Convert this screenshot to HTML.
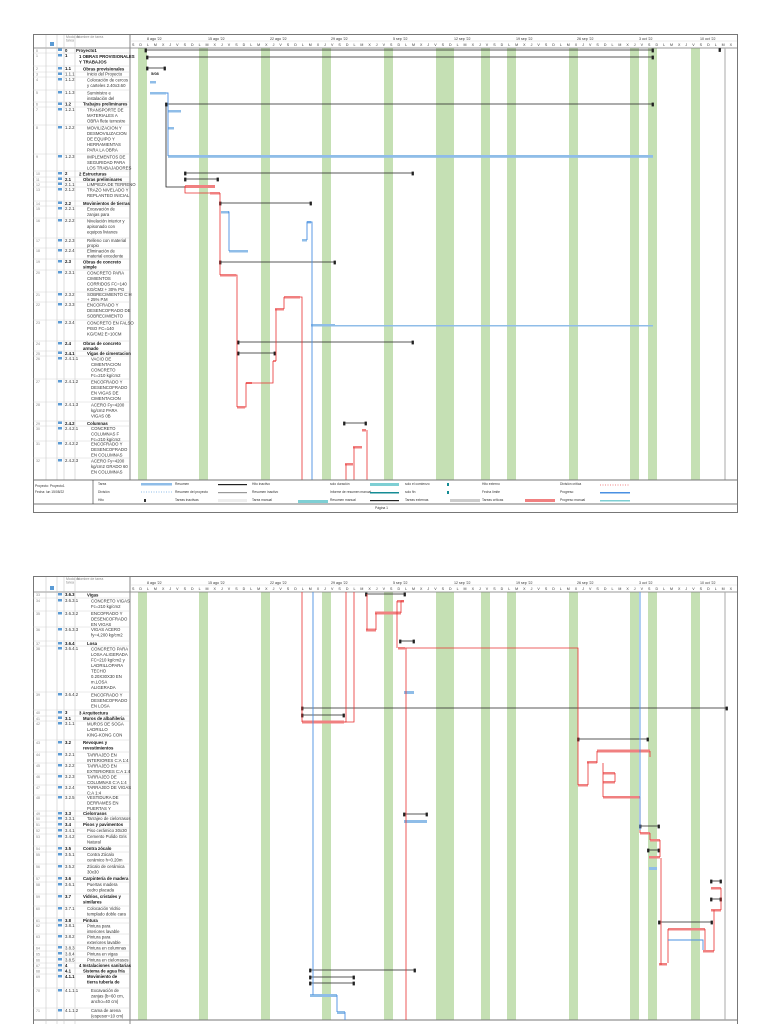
<!DOCTYPE html>
<html><head><meta charset="utf-8"><style>
html,body{margin:0;padding:0;background:#fff}
svg{display:block}
text{font-family:"Liberation Sans",sans-serif;fill:#333}
.n{font-size:4.3px}
.b{font-weight:bold;fill:#111}
.r{font-size:3.5px;fill:#888}
.h{font-size:3.6px;fill:#555}
</style></head><body>
<svg width="768" height="1024" viewBox="0 0 768 1024" xmlns="http://www.w3.org/2000/svg">
<defs>
<g id="stripes1">
<rect x="138" y="48" width="9" height="432" fill="#c5e0b4"/>
<rect x="199" y="48" width="9" height="432" fill="#c5e0b4"/>
<rect x="261" y="48" width="9" height="432" fill="#c5e0b4"/>
<rect x="322" y="48" width="9" height="432" fill="#c5e0b4"/>
<rect x="384" y="48" width="9" height="432" fill="#c5e0b4"/>
<rect x="436" y="48" width="18" height="432" fill="#c5e0b4"/>
<rect x="481" y="48" width="9" height="432" fill="#c5e0b4"/>
<rect x="507" y="48" width="9" height="432" fill="#c5e0b4"/>
<rect x="569" y="48" width="9" height="432" fill="#c5e0b4"/>
<rect x="630" y="48" width="9" height="432" fill="#c5e0b4"/>
<rect x="648" y="48" width="9" height="432" fill="#c5e0b4"/>
<rect x="691" y="48" width="9" height="432" fill="#c5e0b4"/>
</g>
</defs>

<!-- ================= PAGE 1 ================= -->
<rect x="33.5" y="34.5" width="704" height="478" fill="none" stroke="#777" stroke-width="1"/>
<use href="#stripes1"/>
<line x1="33" y1="48" x2="737" y2="48" stroke="#777" stroke-width="0.8"/>
<line x1="130" y1="35" x2="130" y2="480" stroke="#888" stroke-width="1"/>
<line x1="46" y1="35" x2="46" y2="480" stroke="#bbb" stroke-width="0.5"/>
<line x1="57" y1="35" x2="57" y2="480" stroke="#bbb" stroke-width="0.5"/>
<line x1="64" y1="35" x2="64" y2="480" stroke="#bbb" stroke-width="0.5"/>
<line x1="75" y1="35" x2="75" y2="480" stroke="#bbb" stroke-width="0.5"/>
<line x1="725" y1="48" x2="725" y2="480" stroke="#aaa" stroke-width="1"/>
<rect x="50" y="42" width="4" height="4" fill="#5b9bd5"/>
<text x="66" y="38" class="r">Modo de</text><text x="66" y="41.5" class="r">tarea</text>
<text x="77" y="38" class="r">Nombre de tarea</text>
<line x1="130" y1="41" x2="737" y2="41" stroke="#ccc" stroke-width="0.4"/>
<g class="h">
<text x="147" y="40">8 ago '22</text><text x="208" y="40">15 ago '22</text><text x="270" y="40">22 ago '22</text><text x="331" y="40">29 ago '22</text><text x="393" y="40">5 sep '22</text><text x="454" y="40">12 sep '22</text><text x="516" y="40">19 sep '22</text><text x="577" y="40">26 sep '22</text><text x="639" y="40">3 oct '22</text><text x="700" y="40">10 oct '22</text>
<text x="132" y="46" textLength="600" lengthAdjust="spacing">S D L M X J V S D L M X J V S D L M X J V S D L M X J V S D L M X J V S D L M X J V S D L M X J V S D L M X J V S D L M X J V S D L M X J V S D L M X J V S D L M X</text>
</g>

<g stroke="#ccc" stroke-width="0.4">
<line x1="33" y1="53" x2="130" y2="53"/><line x1="33" y1="66" x2="130" y2="66"/><line x1="33" y1="72" x2="130" y2="72"/><line x1="33" y1="77" x2="130" y2="77"/><line x1="33" y1="90" x2="130" y2="90"/><line x1="33" y1="102" x2="130" y2="102"/><line x1="33" y1="107" x2="130" y2="107"/><line x1="33" y1="125" x2="130" y2="125"/><line x1="33" y1="154" x2="130" y2="154"/><line x1="33" y1="171" x2="130" y2="171"/><line x1="33" y1="177" x2="130" y2="177"/><line x1="33" y1="182" x2="130" y2="182"/><line x1="33" y1="187" x2="130" y2="187"/><line x1="33" y1="201" x2="130" y2="201"/><line x1="33" y1="206" x2="130" y2="206"/><line x1="33" y1="218" x2="130" y2="218"/><line x1="33" y1="238" x2="130" y2="238"/><line x1="33" y1="248" x2="130" y2="248"/><line x1="33" y1="259" x2="130" y2="259"/><line x1="33" y1="270" x2="130" y2="270"/><line x1="33" y1="292" x2="130" y2="292"/><line x1="33" y1="302" x2="130" y2="302"/><line x1="33" y1="320" x2="130" y2="320"/><line x1="33" y1="341" x2="130" y2="341"/><line x1="33" y1="351" x2="130" y2="351"/><line x1="33" y1="356" x2="130" y2="356"/><line x1="33" y1="379" x2="130" y2="379"/><line x1="33" y1="402" x2="130" y2="402"/><line x1="33" y1="421" x2="130" y2="421"/><line x1="33" y1="426" x2="130" y2="426"/><line x1="33" y1="441" x2="130" y2="441"/><line x1="33" y1="458" x2="130" y2="458"/>
</g>
<g fill="#5b9bd5">
<rect x="58" y="48.5" width="4" height="2.5"/><rect x="58" y="54" width="4" height="2.5"/><rect x="58" y="67" width="4" height="2.5"/><rect x="58" y="72.5" width="4" height="2.5"/><rect x="58" y="78" width="4" height="2.5"/><rect x="58" y="91" width="4" height="2.5"/><rect x="58" y="102.5" width="4" height="2.5"/><rect x="58" y="108" width="4" height="2.5"/><rect x="58" y="126" width="4" height="2.5"/><rect x="58" y="155" width="4" height="2.5"/><rect x="58" y="172" width="4" height="2.5"/><rect x="58" y="177.5" width="4" height="2.5"/><rect x="58" y="182.5" width="4" height="2.5"/><rect x="58" y="188" width="4" height="2.5"/><rect x="58" y="201.5" width="4" height="2.5"/><rect x="58" y="207" width="4" height="2.5"/><rect x="58" y="219" width="4" height="2.5"/><rect x="58" y="239" width="4" height="2.5"/><rect x="58" y="249" width="4" height="2.5"/><rect x="58" y="260" width="4" height="2.5"/><rect x="58" y="271" width="4" height="2.5"/><rect x="58" y="293" width="4" height="2.5"/><rect x="58" y="303" width="4" height="2.5"/><rect x="58" y="321" width="4" height="2.5"/><rect x="58" y="342" width="4" height="2.5"/><rect x="58" y="351.5" width="4" height="2.5"/><rect x="58" y="357" width="4" height="2.5"/><rect x="58" y="380" width="4" height="2.5"/><rect x="58" y="403" width="4" height="2.5"/><rect x="58" y="421.5" width="4" height="2.5"/><rect x="58" y="427" width="4" height="2.5"/><rect x="58" y="442" width="4" height="2.5"/><rect x="58" y="459" width="4" height="2.5"/>
</g>
<g class="n">
<text x="36" y="52" class="r">0</text><text x="65" y="52" class="b">0</text><text x="76" y="52" class="b">Proyecto1</text>
<text x="36" y="57" class="r">1</text><text x="65" y="57" class="b">1</text><text x="79" y="58" class="b">1 OBRAS PROVISIONALES</text><text x="79" y="63.5" class="b">Y TRABAJOS</text>
<text x="36" y="70" class="r">2</text><text x="65" y="70" class="b">1.1</text><text x="83" y="70.5" class="b">Obras provisionales</text>
<text x="36" y="75.5" class="r">3</text><text x="65" y="75.5">1.1.1</text><text x="87" y="75.5">Inicio del Proyecto</text>
<text x="36" y="81" class="r">4</text><text x="65" y="81">1.1.2</text><text x="87" y="81.5">Colocación de cercos</text><text x="87" y="87">y carteles 2.40x3.60</text>
<text x="36" y="94" class="r">5</text><text x="65" y="94">1.1.3</text><text x="87" y="94.5">Suministro e</text><text x="87" y="100">instalación del</text>
<text x="36" y="105.5" class="r">6</text><text x="65" y="105.5" class="b">1.2</text><text x="83" y="105.5" class="b">Trabajos preliminares</text>
<text x="36" y="111" class="r">7</text><text x="65" y="111">1.2.1</text><text x="87" y="111.5">TRANSPORTE DE</text><text x="87" y="117">MATERIALES A</text><text x="87" y="122.5">OBRA flete terrestre</text>
<text x="36" y="129" class="r">8</text><text x="65" y="129">1.2.2</text><text x="87" y="129.5">MOVILIZACION Y</text><text x="87" y="135">DESMOVILIZACION</text><text x="87" y="140.5">DE EQUIPO Y</text><text x="87" y="146">HERRAMIENTAS</text><text x="87" y="151.5">PARA LA OBRA</text>
<text x="36" y="158" class="r">9</text><text x="65" y="158">1.2.3</text><text x="87" y="158.5">IMPLEMENTOS DE</text><text x="87" y="164">SEGURIDAD PARA</text><text x="87" y="169.5">LOS TRABAJADORES</text>
<text x="36" y="175" class="r">10</text><text x="65" y="175" class="b">2</text><text x="79" y="175.5" class="b">2 Estructuras</text>
<text x="36" y="181" class="r">11</text><text x="65" y="181" class="b">2.1</text><text x="83" y="181" class="b">Obras preliminares</text>
<text x="36" y="186" class="r">12</text><text x="65" y="186">2.1.1</text><text x="87" y="186">LIMPIEZA DE TERRENO</text>
<text x="36" y="191" class="r">13</text><text x="65" y="191">2.1.2</text><text x="87" y="191.5">TRAZO NIVELADO Y</text><text x="87" y="197">REPLANTEO INICIAL</text>
<text x="36" y="205" class="r">14</text><text x="65" y="205" class="b">2.2</text><text x="83" y="205" class="b">Movimientos de tierras</text>
<text x="36" y="210" class="r">15</text><text x="65" y="210">2.2.1</text><text x="87" y="210.5">Excavación de</text><text x="87" y="216">zanjas para</text>
<text x="36" y="222" class="r">16</text><text x="65" y="222">2.2.2</text><text x="87" y="222.5">Nivelación interior y</text><text x="87" y="228">apisonado con</text><text x="87" y="233.5">equipos livianos</text>
<text x="36" y="242" class="r">17</text><text x="65" y="242">2.2.3</text><text x="87" y="242">Relleno con material</text><text x="87" y="247">propio</text>
<text x="36" y="252" class="r">18</text><text x="65" y="252">2.2.4</text><text x="87" y="252.5">Eliminación de</text><text x="87" y="257.5">material excedente</text>
<text x="36" y="263" class="r">19</text><text x="65" y="263" class="b">2.3</text><text x="83" y="263.5" class="b">Obras de concreto</text><text x="83" y="268.5" class="b">simple</text>
<text x="36" y="274" class="r">20</text><text x="65" y="274">2.3.1</text><text x="87" y="274.5">CONCRETO PARA</text><text x="87" y="280">CIMIENTOS</text><text x="87" y="285.5">CORRIDOS FC=140</text><text x="87" y="291">KG/CM2 + 30% PG</text>
<text x="36" y="296" class="r">21</text><text x="65" y="296">2.3.2</text><text x="87" y="296">SOBRECIMIENTO C:H</text><text x="87" y="301">+ 25% P.M</text>
<text x="36" y="306" class="r">22</text><text x="65" y="306">2.3.3</text><text x="87" y="306.5">ENCOFRADO Y</text><text x="87" y="312">DESENCOFRADO DE</text><text x="87" y="317.5">SOBRECIMIENTO</text>
<text x="36" y="324" class="r">23</text><text x="65" y="324">2.3.4</text><text x="87" y="324.5">CONCRETO EN FALSO</text><text x="87" y="330">PISO FC=140</text><text x="87" y="335.5">KG/CM2 E=10CM</text>
<text x="36" y="345" class="r">24</text><text x="65" y="345" class="b">2.4</text><text x="83" y="345" class="b">Obras de concreto</text><text x="83" y="350" class="b">armado</text>
<text x="36" y="355" class="r">25</text><text x="65" y="355" class="b">2.4.1</text><text x="87" y="355" class="b">Vigas de cimentacion</text>
<text x="36" y="360" class="r">26</text><text x="65" y="360">2.4.1.1</text><text x="91" y="360.5">VACIO DE</text><text x="91" y="366">CIMENTACION</text><text x="91" y="371.5">CONCRETO</text><text x="91" y="377">Fc=210 kg/cm2</text>
<text x="36" y="383" class="r">27</text><text x="65" y="383">2.4.1.2</text><text x="91" y="383.5">ENCOFRADO Y</text><text x="91" y="389">DESENCOFRADO</text><text x="91" y="394.5">EN VIGAS DE</text><text x="91" y="400">CIMENTACION</text>
<text x="36" y="406" class="r">28</text><text x="65" y="406">2.4.1.3</text><text x="91" y="406.5">ACERO Fy=4200</text><text x="91" y="412">kg/cm2 PARA</text><text x="91" y="417.5">VIGAS 0B</text>
<text x="36" y="425" class="r">29</text><text x="65" y="425" class="b">2.4.2</text><text x="87" y="425" class="b">Columnas</text>
<text x="36" y="430" class="r">30</text><text x="65" y="430">2.4.2.1</text><text x="91" y="430">CONCRETO</text><text x="91" y="435.5">COLUMNAS F</text><text x="91" y="441">Fc=210 kg/cm2</text>
<text x="36" y="445" class="r">31</text><text x="65" y="445">2.4.2.2</text><text x="91" y="445.5">ENCOFRADO Y</text><text x="91" y="451">DESENCOFRADO</text><text x="91" y="456.5">EN COLUMNAS</text>
<text x="36" y="462" class="r">32</text><text x="65" y="462">2.4.2.3</text><text x="91" y="462.5">ACERO Fy=4200</text><text x="91" y="468">kg/cm2 GRADO 60</text><text x="91" y="473.5">EN COLUMNAS</text>
</g>

<g stroke="#222" stroke-width="0.8" fill="#222">
<line x1="146" y1="50" x2="653" y2="50"/><rect x="145" y="49" width="1.5" height="3"/><rect x="652" y="49" width="1.5" height="3"/>
<rect x="719" y="48.5" width="1.5" height="3" />
<line x1="147" y1="57" x2="653" y2="57"/><rect x="146.5" y="56" width="1.5" height="3"/><rect x="652" y="56" width="1.5" height="3"/>
<line x1="147" y1="68" x2="165" y2="68"/><rect x="146.5" y="67" width="1.5" height="3"/><rect x="164" y="67" width="1.5" height="3"/>
<line x1="166" y1="104" x2="653" y2="104"/><rect x="165.5" y="103" width="1.5" height="3"/><rect x="652" y="103" width="1.5" height="3"/>
<line x1="185" y1="173" x2="413" y2="173"/><rect x="184.5" y="172" width="1.5" height="3"/><rect x="412" y="172" width="1.5" height="3"/>
<line x1="185" y1="179" x2="218" y2="179"/><rect x="184.5" y="178" width="1.5" height="3"/><rect x="217" y="178" width="1.5" height="3"/>
<line x1="220" y1="203" x2="311" y2="203"/><rect x="219.5" y="202" width="1.5" height="3"/><rect x="310" y="202" width="1.5" height="3"/>
<line x1="220" y1="262" x2="335" y2="262"/><rect x="219.5" y="261" width="1.5" height="3"/><rect x="334" y="261" width="1.5" height="3"/>
<line x1="238" y1="342" x2="413" y2="342"/><rect x="237.5" y="341" width="1.5" height="3"/><rect x="412" y="341" width="1.5" height="3"/>
<line x1="238" y1="353" x2="275" y2="353"/><rect x="237.5" y="352" width="1.5" height="3"/><rect x="274" y="352" width="1.5" height="3"/>
<line x1="344" y1="423" x2="366" y2="423"/><rect x="343.5" y="422" width="1.5" height="3"/><rect x="365" y="422" width="1.5" height="3"/>
<polyline points="166,104 166,187 185,187" fill="none"/>
</g>
<text x="151" y="75" style="font-size:4px;font-weight:bold;fill:#222">5/08</text>
<g fill="#8fbde8">
<rect x="150" y="81" width="6" height="2.5"/><rect x="150" y="92" width="16" height="2.5"/>
<rect x="168" y="110" width="13" height="2.5"/><rect x="168" y="127" width="6" height="2.5"/>
<rect x="168" y="155" width="485" height="2.8"/>
<rect x="221" y="211" width="8" height="2.5"/><rect x="229" y="250" width="19" height="2.5"/>
<rect x="302" y="239" width="5" height="2.5"/><rect x="307" y="221" width="4" height="2.5"/>
<rect x="311" y="324" width="24" height="2.5"/><rect x="335" y="325" width="318" height="1.5"/>
</g>
<g stroke="#4a90e2" stroke-width="0.9" fill="none">
<polyline points="166,93 168,93 168,156"/>
<polyline points="228,212 229,212 229,251"/>
<polyline points="307,240 307,222 312,222 312,480"/>
</g>
<g fill="#f08080">
<rect x="185" y="185" width="30" height="3"/><rect x="210" y="192" width="10" height="2.5"/>
<rect x="220" y="274" width="16" height="2.5"/><rect x="237" y="406" width="8" height="2.5"/>
<rect x="246" y="382" width="6" height="2"/><rect x="273" y="360" width="3" height="2"/>
<rect x="275" y="308" width="9" height="2.5"/><rect x="284" y="296" width="16" height="2.5"/>
<rect x="345" y="463" width="8" height="2.5"/><rect x="353" y="446" width="9" height="2.5"/><rect x="362" y="429" width="4" height="2.5"/>
</g>
<g stroke="#e83030" stroke-width="0.8" fill="none">
<polyline points="185,186 185,193 210,193"/>
<polyline points="220,193 220,275"/>
<polyline points="236,275 237,275 237,407"/>
<polyline points="245,407 246,407 246,383 273,383 273,361"/>
<polyline points="276,361 276,309"/>
<polyline points="284,309 284,297"/>
<polyline points="300,297 302,297 302,480"/>
<polyline points="346,464 346,480"/><polyline points="354,447 354,480"/><polyline points="367,430 367,480"/>
</g>

<line x1="33" y1="480" x2="737" y2="480" stroke="#777" stroke-width="1"/>
<line x1="33" y1="504" x2="737" y2="504" stroke="#777" stroke-width="1"/>
<line x1="93" y1="480" x2="93" y2="504" stroke="#333" stroke-width="0.6"/>
<g style="font-size:3.3px">
<text x="35" y="487">Proyecto: Proyecto1</text><text x="35" y="493">Fecha: lun 15/08/22</text>
<text x="98" y="485">Tarea</text><text x="98" y="493">División</text><text x="98" y="501">Hito</text>
<text x="175" y="485">Resumen</text><text x="175" y="493">Resumen del proyecto</text><text x="175" y="501">Tareas inactivas</text>
<text x="252" y="485">Hito inactivo</text><text x="252" y="493">Resumen inactivo</text><text x="252" y="501">Tarea manual</text>
<text x="330" y="485">solo duración</text><text x="330" y="493">Informe de resumen manual</text><text x="330" y="501">Resumen manual</text>
<text x="405" y="485">solo el comienzo</text><text x="405" y="493">solo fin</text><text x="405" y="501">Tareas externas</text>
<text x="482" y="485">Hito externo</text><text x="482" y="493">Fecha límite</text><text x="482" y="501">Tareas críticas</text>
<text x="560" y="485">División crítica</text><text x="560" y="493">Progreso</text><text x="560" y="501">Progreso manual</text>
<text x="375" y="509">Página 1</text>
</g>
<rect x="141" y="483" width="31" height="2.5" fill="#8fbde8"/>
<line x1="141" y1="492" x2="172" y2="492" stroke="#8fbde8" stroke-dasharray="1,1.5"/>
<rect x="144" y="499" width="2" height="3" fill="#333"/>
<rect x="218" y="484" width="29" height="1.2" fill="#222"/><rect x="218" y="492" width="29" height="1.2" fill="#999"/>
<rect x="218" y="499" width="29" height="3" fill="#eee"/>
<rect x="298" y="500" width="30" height="3" fill="#7ecfd4"/>
<rect x="370" y="483" width="29" height="3" fill="#7ecfd4"/><rect x="370" y="492" width="29" height="1.5" fill="#158c95"/>
<rect x="370" y="500" width="29" height="1.2" fill="#222"/>
<rect x="447" y="483" width="2" height="3" fill="#158c95"/><rect x="447" y="491" width="2" height="3" fill="#158c95"/>
<rect x="450" y="499" width="30" height="3" fill="#ccc"/>
<rect x="525" y="499" width="30" height="3" fill="#f08080"/>
<line x1="600" y1="485" x2="630" y2="485" stroke="#f08080" stroke-dasharray="1,1.5"/>
<rect x="600" y="492" width="30" height="1.5" fill="#4a90e2"/><rect x="600" y="500" width="30" height="1.5" fill="#7ecfd4"/>

<!-- ================= PAGE 2 ================= -->
<rect x="33.5" y="576.5" width="704" height="460" fill="none" stroke="#777" stroke-width="1"/>
<g transform="translate(0,544)"><use href="#stripes1"/></g>
<rect x="130" y="1020" width="600" height="4" fill="#fff"/>
<line x1="33" y1="592" x2="737" y2="592" stroke="#777" stroke-width="0.8"/>
<line x1="33" y1="1020" x2="737" y2="1020" stroke="#777" stroke-width="1"/>
<line x1="130" y1="577" x2="130" y2="1024" stroke="#888" stroke-width="1"/>
<line x1="46" y1="577" x2="46" y2="1024" stroke="#bbb" stroke-width="0.5"/>
<line x1="57" y1="577" x2="57" y2="1024" stroke="#bbb" stroke-width="0.5"/>
<line x1="64" y1="577" x2="64" y2="1024" stroke="#bbb" stroke-width="0.5"/>
<line x1="75" y1="577" x2="75" y2="1024" stroke="#bbb" stroke-width="0.5"/>
<line x1="725" y1="592" x2="725" y2="1020" stroke="#aaa" stroke-width="1"/>
<rect x="50" y="586" width="4" height="4" fill="#5b9bd5"/>
<text x="66" y="580" class="r">Modo de</text><text x="66" y="583.5" class="r">tarea</text>
<text x="77" y="580" class="r">Nombre de tarea</text>
<line x1="130" y1="585" x2="737" y2="585" stroke="#ccc" stroke-width="0.4"/>
<g class="h">
<text x="147" y="584">8 ago '22</text><text x="208" y="584">15 ago '22</text><text x="270" y="584">22 ago '22</text><text x="331" y="584">29 ago '22</text><text x="393" y="584">5 sep '22</text><text x="454" y="584">12 sep '22</text><text x="516" y="584">19 sep '22</text><text x="577" y="584">26 sep '22</text><text x="639" y="584">3 oct '22</text><text x="700" y="584">10 oct '22</text>
<text x="132" y="590" textLength="600" lengthAdjust="spacing">S D L M X J V S D L M X J V S D L M X J V S D L M X J V S D L M X J V S D L M X J V S D L M X J V S D L M X J V S D L M X J V S D L M X J V S D L M X J V S D L M X</text>
</g>
<g stroke="#ccc" stroke-width="0.4">
<line x1="33" y1="598" x2="130" y2="598"/><line x1="33" y1="611" x2="130" y2="611"/><line x1="33" y1="627" x2="130" y2="627"/><line x1="33" y1="641" x2="130" y2="641"/><line x1="33" y1="646" x2="130" y2="646"/><line x1="33" y1="692" x2="130" y2="692"/><line x1="33" y1="710" x2="130" y2="710"/><line x1="33" y1="716" x2="130" y2="716"/><line x1="33" y1="721" x2="130" y2="721"/><line x1="33" y1="740" x2="130" y2="740"/><line x1="33" y1="752" x2="130" y2="752"/><line x1="33" y1="763" x2="130" y2="763"/><line x1="33" y1="774" x2="130" y2="774"/><line x1="33" y1="785" x2="130" y2="785"/><line x1="33" y1="795" x2="130" y2="795"/><line x1="33" y1="811" x2="130" y2="811"/><line x1="33" y1="816" x2="130" y2="816"/><line x1="33" y1="822" x2="130" y2="822"/><line x1="33" y1="828" x2="130" y2="828"/><line x1="33" y1="834" x2="130" y2="834"/><line x1="33" y1="846" x2="130" y2="846"/><line x1="33" y1="852" x2="130" y2="852"/><line x1="33" y1="864" x2="130" y2="864"/><line x1="33" y1="876" x2="130" y2="876"/><line x1="33" y1="882" x2="130" y2="882"/><line x1="33" y1="894" x2="130" y2="894"/><line x1="33" y1="906" x2="130" y2="906"/><line x1="33" y1="918" x2="130" y2="918"/><line x1="33" y1="923" x2="130" y2="923"/><line x1="33" y1="934" x2="130" y2="934"/><line x1="33" y1="945" x2="130" y2="945"/><line x1="33" y1="951" x2="130" y2="951"/><line x1="33" y1="957" x2="130" y2="957"/><line x1="33" y1="963" x2="130" y2="963"/><line x1="33" y1="968" x2="130" y2="968"/><line x1="33" y1="974" x2="130" y2="974"/><line x1="33" y1="988" x2="130" y2="988"/><line x1="33" y1="1008" x2="130" y2="1008"/>
</g>
<g fill="#5b9bd5">
<rect x="58" y="593" width="4" height="2.5"/><rect x="58" y="599" width="4" height="2.5"/><rect x="58" y="612" width="4" height="2.5"/><rect x="58" y="628" width="4" height="2.5"/><rect x="58" y="642" width="4" height="2.5"/><rect x="58" y="647" width="4" height="2.5"/><rect x="58" y="693" width="4" height="2.5"/><rect x="58" y="711" width="4" height="2.5"/><rect x="58" y="716.5" width="4" height="2.5"/><rect x="58" y="722" width="4" height="2.5"/><rect x="58" y="741" width="4" height="2.5"/><rect x="58" y="753" width="4" height="2.5"/><rect x="58" y="764" width="4" height="2.5"/><rect x="58" y="775" width="4" height="2.5"/><rect x="58" y="786" width="4" height="2.5"/><rect x="58" y="796" width="4" height="2.5"/><rect x="58" y="812" width="4" height="2.5"/><rect x="58" y="817" width="4" height="2.5"/><rect x="58" y="823" width="4" height="2.5"/><rect x="58" y="829" width="4" height="2.5"/><rect x="58" y="835" width="4" height="2.5"/><rect x="58" y="847" width="4" height="2.5"/><rect x="58" y="853" width="4" height="2.5"/><rect x="58" y="865" width="4" height="2.5"/><rect x="58" y="877" width="4" height="2.5"/><rect x="58" y="883" width="4" height="2.5"/><rect x="58" y="895" width="4" height="2.5"/><rect x="58" y="907" width="4" height="2.5"/><rect x="58" y="919" width="4" height="2.5"/><rect x="58" y="924" width="4" height="2.5"/><rect x="58" y="935" width="4" height="2.5"/><rect x="58" y="946" width="4" height="2.5"/><rect x="58" y="952" width="4" height="2.5"/><rect x="58" y="958" width="4" height="2.5"/><rect x="58" y="964" width="4" height="2.5"/><rect x="58" y="969" width="4" height="2.5"/><rect x="58" y="975" width="4" height="2.5"/><rect x="58" y="989" width="4" height="2.5"/><rect x="58" y="1009" width="4" height="2.5"/>
</g>
<g class="n">
<text x="36" y="596" class="r">33</text><text x="65" y="596" class="b">3.6.3</text><text x="87" y="596.5" class="b">Vigas</text>
<text x="36" y="602" class="r">34</text><text x="65" y="602">3.6.3.1</text><text x="91" y="602.5">CONCRETO VIGAS</text><text x="91" y="608">Fc=210 kg/cm2</text>
<text x="36" y="615" class="r">35</text><text x="65" y="615">3.6.3.2</text><text x="91" y="615">ENCOFRADO Y</text><text x="91" y="620.5">DESENCOFRADO</text><text x="91" y="626">EN VIGAS</text>
<text x="36" y="631" class="r">36</text><text x="65" y="631">3.6.3.3</text><text x="91" y="631">VIGAS ACERO</text><text x="91" y="636.5">fy=4,200 kg/cm2</text>
<text x="36" y="645" class="r">37</text><text x="65" y="645" class="b">3.6.4</text><text x="87" y="645" class="b">Losa</text>
<text x="36" y="650" class="r">38</text><text x="65" y="650">3.6.4.1</text><text x="91" y="650.5">CONCRETO PARA</text><text x="91" y="656">LOSA ALIGERADA</text><text x="91" y="661.5">FC=210 kg/cm2 y</text><text x="91" y="667">LADRILLOPARA</text><text x="91" y="672.5">TECHO</text><text x="91" y="678">0.20X30X30 EN</text><text x="91" y="683.5">m.LOSA</text><text x="91" y="689">ALIGERADA</text>
<text x="36" y="696" class="r">39</text><text x="65" y="696">3.6.4.2</text><text x="91" y="696.5">ENCOFRADO Y</text><text x="91" y="702">DESENCOFRADO</text><text x="91" y="707.5">EN LOSA</text>
<text x="36" y="714" class="r">40</text><text x="65" y="714" class="b">3</text><text x="79" y="714.5" class="b">3 Arquitectura</text>
<text x="36" y="720" class="r">41</text><text x="65" y="720" class="b">3.1</text><text x="83" y="720" class="b">Muros de albañileria</text>
<text x="36" y="725" class="r">42</text><text x="65" y="725">3.1.1</text><text x="87" y="725.5">MUROS DE SOGA</text><text x="87" y="731">LADRILLO</text><text x="87" y="736.5">KING-KONG CON</text>
<text x="36" y="744" class="r">43</text><text x="65" y="744" class="b">3.2</text><text x="83" y="744" class="b">Revoques y</text><text x="83" y="749.5" class="b">revestimientos</text>
<text x="36" y="756" class="r">44</text><text x="65" y="756">3.2.1</text><text x="87" y="756.5">TARRAJEO EN</text><text x="87" y="762">INTERIORES C:A 1:4</text>
<text x="36" y="767" class="r">45</text><text x="65" y="767">3.2.2</text><text x="87" y="767.5">TARRAJEO EN</text><text x="87" y="773">EXTERIORES C:A 1:4</text>
<text x="36" y="778" class="r">46</text><text x="65" y="778">3.2.3</text><text x="87" y="778.5">TARRAJEO DE</text><text x="87" y="784">COLUMNAS C:A 1:4</text>
<text x="36" y="789" class="r">47</text><text x="65" y="789">3.2.4</text><text x="87" y="789">TARRAJEO DE VIGAS</text><text x="87" y="794.5">C:A 1:4</text>
<text x="36" y="799" class="r">48</text><text x="65" y="799">3.2.5</text><text x="87" y="799">VESTIDURA DE</text><text x="87" y="804.5">DERRAMES EN</text><text x="87" y="810">PUERTAS Y</text>
<text x="36" y="815" class="r">49</text><text x="65" y="815" class="b">3.3</text><text x="83" y="815" class="b">Cielorrasos</text>
<text x="36" y="820" class="r">50</text><text x="65" y="820">3.3.1</text><text x="87" y="820">Tarrajeo de cielorrasos</text>
<text x="36" y="826" class="r">51</text><text x="65" y="826" class="b">3.4</text><text x="83" y="826" class="b">Pisos y pavimentos</text>
<text x="36" y="832" class="r">52</text><text x="65" y="832">3.4.1</text><text x="87" y="832">Piso cerámico 30x30</text>
<text x="36" y="838" class="r">53</text><text x="65" y="838">3.4.2</text><text x="87" y="838">Cemento Pulido Gris</text><text x="87" y="843.5">Natural</text>
<text x="36" y="850" class="r">54</text><text x="65" y="850" class="b">3.5</text><text x="83" y="850" class="b">Contra zócalo</text>
<text x="36" y="856" class="r">55</text><text x="65" y="856">3.5.1</text><text x="87" y="856">Contra Zócalo</text><text x="87" y="861.5">cerámico h=0.20m</text>
<text x="36" y="868" class="r">56</text><text x="65" y="868">3.5.2</text><text x="87" y="868">Zócalo de cerámica</text><text x="87" y="873.5">30x30</text>
<text x="36" y="880" class="r">57</text><text x="65" y="880" class="b">3.6</text><text x="83" y="880" class="b">Carpintería de madera</text>
<text x="36" y="886" class="r">58</text><text x="65" y="886">3.6.1</text><text x="87" y="886">Puertas madera</text><text x="87" y="891.5">cedro placada</text>
<text x="36" y="898" class="r">59</text><text x="65" y="898" class="b">3.7</text><text x="83" y="898" class="b">Vidrios, cristales y</text><text x="83" y="903.5" class="b">similares</text>
<text x="36" y="910" class="r">60</text><text x="65" y="910">3.7.1</text><text x="87" y="910">Colocación Vidrio</text><text x="87" y="915.5">templado doble cara</text>
<text x="36" y="922" class="r">61</text><text x="65" y="922" class="b">3.8</text><text x="83" y="922" class="b">Pintura</text>
<text x="36" y="927" class="r">62</text><text x="65" y="927">3.8.1</text><text x="87" y="927.5">Pintura para</text><text x="87" y="933">interiores lavable</text>
<text x="36" y="938" class="r">63</text><text x="65" y="938">3.8.2</text><text x="87" y="938.5">Pintura para</text><text x="87" y="944">exteriores lavable</text>
<text x="36" y="949.5" class="r">64</text><text x="65" y="949.5">3.8.3</text><text x="87" y="949.5">Pintura en columnas</text>
<text x="36" y="955.5" class="r">65</text><text x="65" y="955.5">3.8.4</text><text x="87" y="955.5">Pintura en vigas</text>
<text x="36" y="961.5" class="r">66</text><text x="65" y="961.5">3.8.5</text><text x="87" y="961.5">Pintura en cielorrasos</text>
<text x="36" y="967" class="r">67</text><text x="65" y="967" class="b">4</text><text x="79" y="967" class="b">4 Instalaciones sanitarias</text>
<text x="36" y="972.5" class="r">68</text><text x="65" y="972.5" class="b">4.1</text><text x="83" y="972.5" class="b">Sistema de agua fría</text>
<text x="36" y="978" class="r">69</text><text x="65" y="978" class="b">4.1.1</text><text x="87" y="978" class="b">Movimiento de</text><text x="87" y="983.5" class="b">tierra tubería de</text>
<text x="36" y="992" class="r">70</text><text x="65" y="992">4.1.1.1</text><text x="91" y="992">Excavación de</text><text x="91" y="997.5">zanjas (b=60 cm,</text><text x="91" y="1003">ancho=40 cm)</text>
<text x="36" y="1012" class="r">71</text><text x="65" y="1012">4.1.1.2</text><text x="91" y="1012">Cama de arena</text><text x="91" y="1017.5">(espesor=10 cm)</text>
</g>

<g stroke="#222" stroke-width="0.8" fill="#222">
<line x1="366" y1="594" x2="405" y2="594"/><rect x="365.5" y="593" width="1.5" height="3"/><rect x="404" y="593" width="1.5" height="3"/>
<line x1="400" y1="641" x2="414" y2="641"/><rect x="399.5" y="640" width="1.5" height="3"/><rect x="413" y="640" width="1.5" height="3"/>
<line x1="302" y1="708" x2="727" y2="708"/><rect x="301.5" y="707" width="1.5" height="3"/><rect x="726" y="707" width="1.5" height="3"/>
<line x1="302" y1="715" x2="344" y2="715"/><rect x="301.5" y="714" width="1.5" height="3"/><rect x="343" y="714" width="1.5" height="3"/>
<line x1="578" y1="739" x2="648" y2="739"/><rect x="577.5" y="738" width="1.5" height="3"/><rect x="647" y="738" width="1.5" height="3"/>
<line x1="404" y1="814" x2="427" y2="814"/><rect x="403.5" y="813" width="1.5" height="3"/><rect x="426" y="813" width="1.5" height="3"/>
<line x1="640" y1="826" x2="659" y2="826"/><rect x="639.5" y="825" width="1.5" height="3"/><rect x="658" y="825" width="1.5" height="3"/>
<line x1="648" y1="850" x2="659" y2="850"/><rect x="647.5" y="849" width="1.5" height="3"/><rect x="658" y="849" width="1.5" height="3"/>
<line x1="711" y1="881" x2="721" y2="881"/><rect x="710.5" y="880" width="1.5" height="3"/><rect x="720" y="880" width="1.5" height="3"/>
<line x1="711" y1="899" x2="721" y2="899"/><rect x="710.5" y="898" width="1.5" height="3"/><rect x="720" y="898" width="1.5" height="3"/>
<line x1="659" y1="922" x2="712" y2="922"/><rect x="658.5" y="921" width="1.5" height="3"/><rect x="711" y="921" width="1.5" height="3"/>
<line x1="310" y1="970" x2="415" y2="970"/><rect x="309.5" y="969" width="1.5" height="3"/><rect x="414" y="969" width="1.5" height="3"/>
<line x1="310" y1="977" x2="354" y2="977"/><rect x="309.5" y="976" width="1.5" height="3"/><rect x="353" y="976" width="1.5" height="3"/>
<line x1="310" y1="983" x2="354" y2="983"/><rect x="309.5" y="982" width="1.5" height="3"/><rect x="353" y="982" width="1.5" height="3"/>
</g>
<g fill="#f08080">
<rect x="375" y="611.5" width="26" height="3"/><rect x="366" y="628.5" width="10" height="3"/>
<rect x="397" y="600" width="7" height="2.5"/>
<rect x="398" y="647" width="7" height="2.5"/>
<rect x="302" y="720.5" width="42" height="3"/>
<rect x="597" y="749.5" width="53" height="3"/><rect x="587" y="761" width="10" height="2.5"/><rect x="578" y="784" width="10" height="2.5"/>
<rect x="603" y="772" width="12" height="2.5"/><rect x="603" y="781" width="12" height="2.5"/>
<rect x="603" y="796" width="37" height="2.5"/>
<rect x="640" y="832" width="10" height="2.5"/><rect x="650" y="839" width="10" height="2.5"/><rect x="649" y="856" width="11" height="2.5"/>
<rect x="711" y="887" width="10" height="2.5"/><rect x="711" y="909" width="10" height="2.5"/>
<rect x="668" y="928" width="37" height="2.5"/><rect x="703" y="950" width="11" height="2.5"/><rect x="659" y="963" width="8" height="2.5"/>
</g>
<g fill="#8fbde8">
<rect x="404" y="691" width="10" height="3"/><rect x="404" y="820" width="23" height="3"/>
<rect x="649" y="867" width="8" height="3"/>
<rect x="310" y="994" width="27" height="3"/><rect x="337" y="1011" width="8" height="3"/>
</g>
<g stroke="#e83030" stroke-width="0.8" fill="none">
<line x1="302" y1="592" x2="302" y2="722"/>
<polyline points="344,722 346,722 346,592"/><polyline points="354,592 354,722 344,722"/>
<polyline points="367,594 367,630"/><polyline points="376,630 376,613"/>
<polyline points="401,613 401,601 404,601"/>
<polyline points="397,601 397,648"/>
<polyline points="405,648 578,648 578,785"/>
<polyline points="406,648 406,1020"/>
<polyline points="650,751 650,757"/><polyline points="597,751 597,763"/><polyline points="588,762 588,785"/>
<polyline points="603,763 603,797"/><polyline points="615,773 615,782"/>
<polyline points="640,797 640,833"/><polyline points="650,833 650,840"/><polyline points="660,840 660,857"/>
<polyline points="661,858 661,965"/>
<polyline points="721,888 721,910"/><polyline points="714,910 714,951"/>
<polyline points="668,929 668,963"/><polyline points="705,929 705,950"/>
</g>
<g stroke="#4a90e2" stroke-width="0.9" fill="none">
<polyline points="313,592 313,995"/>
<polyline points="640,592 640,830"/>
<polyline points="337,995 337,1012"/><polyline points="345,1012 345,1020"/>
<polyline points="668,940 703,940 703,950"/>
</g>
</svg>
</body></html>
